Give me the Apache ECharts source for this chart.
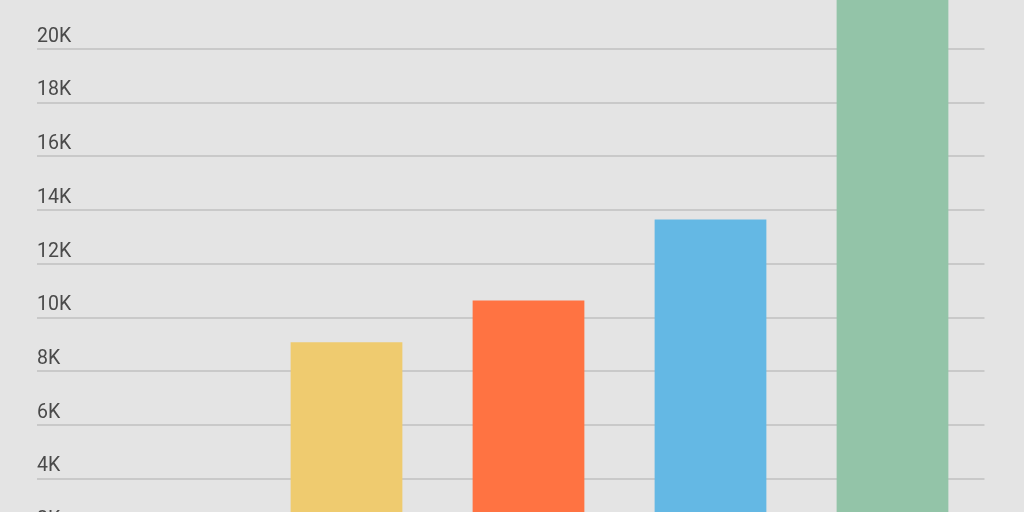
<!DOCTYPE html>
<html>
<head>
<meta charset="utf-8">
<script src="https://cdn.jsdelivr.net/npm/echarts@6/dist/echarts.min.js"></script>
<style>
html,body{margin:0;padding:0;background:#e4e4e4;overflow:hidden;width:1024px;height:512px;}
#chart{position:absolute;left:0;top:-5.4px;width:1024px;height:590.5px;}
</style>
</head>
<body>
<div id="chart"></div>
<script>
var categories = ['A', 'B', 'C', 'D', 'E'];
var values = [1800, 9070, 10630, 13640, 23000];
var barColors = ['#e8a24a', '#efcb6f', '#ff7342', '#64b8e4', '#93c4a8'];
var yMin = 0, yMax = 22000, yInterval = 2000;

var chart = echarts.init(document.getElementById('chart'));
chart.setOption({
  backgroundColor: '#e4e4e4',
  animation: false,
  grid: [
    {left: 37, right: 39.5, top: 0, bottom: 0, containLabel: false, outerBoundsMode: 'none'},
    {left: 73.5, right: 40.5, top: 0, bottom: 0, containLabel: false, outerBoundsMode: 'none'}
  ],
  xAxis: [
    {type: 'category', gridIndex: 0, data: categories, show: false},
    {type: 'category', gridIndex: 1, data: categories, show: false}
  ],
  yAxis: [
    {
      type: 'value', gridIndex: 0, min: yMin, max: yMax, interval: yInterval,
      axisLine: {show: false}, axisTick: {show: false},
      splitLine: {lineStyle: {color: '#c9c9c9', width: 2}},
      axisLabel: {
        inside: true, margin: 0, align: 'left', verticalAlign: 'bottom',
        padding: [0, 0, 2, 0],
        fontFamily: 'Roboto', fontSize: 19.5, color: '#4a4a4a',
        formatter: function (v) { return v === 0 ? '0' : (v / 1000) + 'K'; }
      }
    },
    {type: 'value', gridIndex: 1, min: yMin, max: yMax, interval: yInterval, show: false, splitLine: {show: false}}
  ],
  series: [{
    type: 'bar',
    xAxisIndex: 1, yAxisIndex: 1,
    barWidth: '61.4%',
    data: values.map(function (v, i) { return {value: v, itemStyle: {color: barColors[i]}}; })
  }]
});
</script>
</body>
</html>
